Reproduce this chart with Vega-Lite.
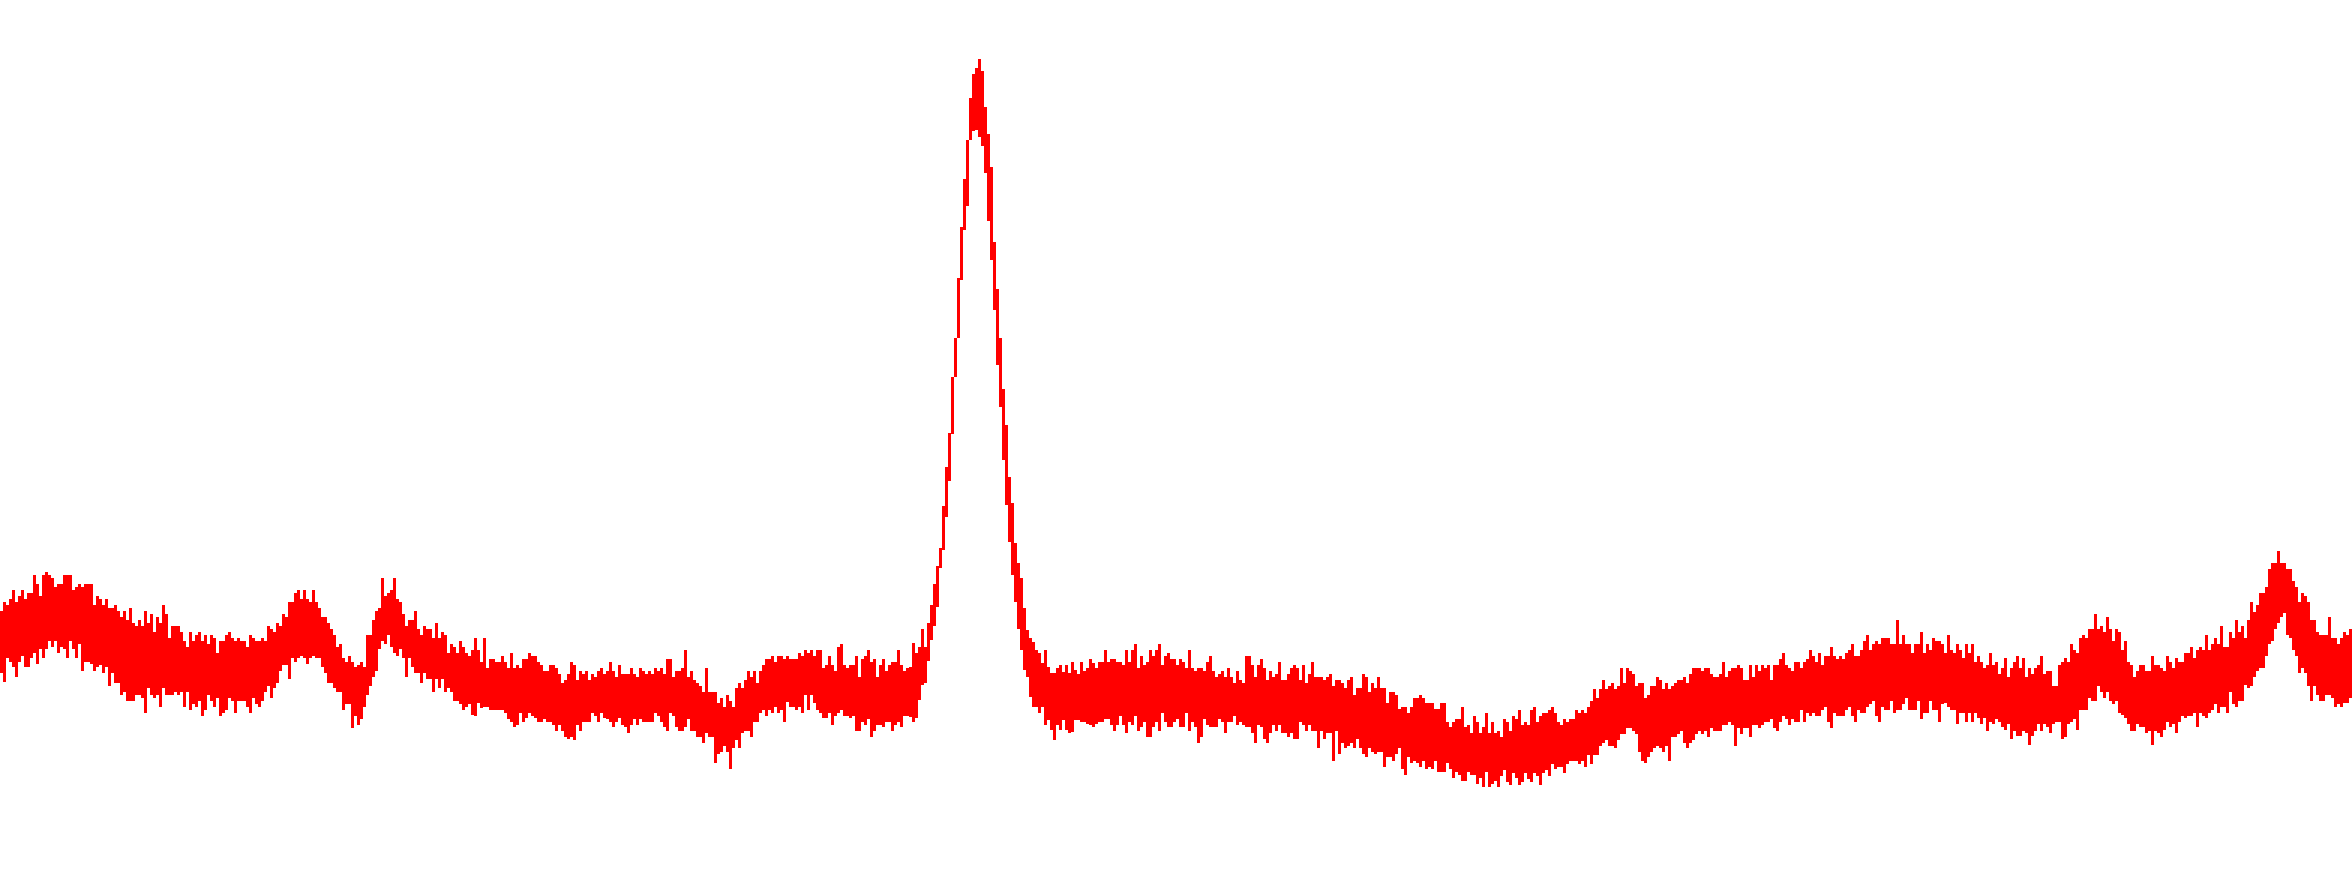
{
  "$schema": "https://vega.github.io/schema/vega-lite/v6.json",
  "autosize": {"type": "fit", "contains": "padding"},
  "padding": 0,
  "width": 2352,
  "height": 876,
  "background": "white",
  "config": {"view": {"stroke": null}},
  "data": {
    "values": [
      {"x":0,"hi":389,"lo":327},{"x":3,"hi":398,"lo":318},{"x":6,"hi":395,"lo":342},{"x":9,"hi":401,"lo":338},{"x":12,"hi":410,"lo":333},{"x":15,"hi":398,"lo":323},{"x":18,"hi":404,"lo":338},{"x":21,"hi":410,"lo":344},{"x":24,"hi":401,"lo":333},{"x":27,"hi":407,"lo":333},
      {"x":30,"hi":407,"lo":342},{"x":33,"hi":425,"lo":347},{"x":36,"hi":416,"lo":336},{"x":39,"hi":404,"lo":351},{"x":42,"hi":425,"lo":342},{"x":45,"hi":428,"lo":351},{"x":48,"hi":425,"lo":359},{"x":51,"hi":422,"lo":353},{"x":54,"hi":413,"lo":359},{"x":57,"hi":416,"lo":347},
      {"x":60,"hi":416,"lo":353},{"x":63,"hi":425,"lo":351},{"x":66,"hi":425,"lo":342},{"x":69,"hi":425,"lo":359},{"x":72,"hi":410,"lo":351},{"x":75,"hi":413,"lo":342},{"x":78,"hi":416,"lo":356},{"x":81,"hi":413,"lo":329},{"x":84,"hi":416,"lo":338},{"x":87,"hi":416,"lo":338},
      {"x":90,"hi":416,"lo":336},{"x":93,"hi":395,"lo":329},{"x":96,"hi":404,"lo":333},{"x":99,"hi":401,"lo":335},{"x":102,"hi":395,"lo":327},{"x":105,"hi":401,"lo":333},{"x":108,"hi":392,"lo":314},{"x":111,"hi":392,"lo":327},{"x":114,"hi":395,"lo":317},{"x":117,"hi":389,"lo":317},
      {"x":120,"hi":383,"lo":305},{"x":123,"hi":389,"lo":308},{"x":126,"hi":380,"lo":299},{"x":129,"hi":392,"lo":299},{"x":132,"hi":377,"lo":299},{"x":135,"hi":374,"lo":305},{"x":138,"hi":380,"lo":305},{"x":141,"hi":374,"lo":302},{"x":144,"hi":389,"lo":287},{"x":147,"hi":377,"lo":312},
      {"x":150,"hi":386,"lo":305},{"x":153,"hi":368,"lo":302},{"x":156,"hi":383,"lo":305},{"x":159,"hi":377,"lo":293},{"x":162,"hi":395,"lo":312},{"x":165,"hi":386,"lo":305},{"x":168,"hi":362,"lo":305},{"x":171,"hi":374,"lo":305},{"x":174,"hi":374,"lo":308},{"x":177,"hi":374,"lo":305},
      {"x":180,"hi":368,"lo":308},{"x":183,"hi":359,"lo":293},{"x":186,"hi":353,"lo":308},{"x":189,"hi":368,"lo":290},{"x":192,"hi":359,"lo":296},{"x":195,"hi":365,"lo":293},{"x":198,"hi":368,"lo":299},{"x":201,"hi":359,"lo":284},{"x":204,"hi":365,"lo":290},{"x":207,"hi":356,"lo":305},
      {"x":210,"hi":365,"lo":299},{"x":213,"hi":362,"lo":293},{"x":216,"hi":347,"lo":302},{"x":219,"hi":359,"lo":284},{"x":222,"hi":359,"lo":287},{"x":225,"hi":365,"lo":290},{"x":228,"hi":368,"lo":302},{"x":231,"hi":362,"lo":299},{"x":234,"hi":359,"lo":287},{"x":237,"hi":362,"lo":299},
      {"x":240,"hi":359,"lo":299},{"x":243,"hi":359,"lo":299},{"x":246,"hi":353,"lo":293},{"x":249,"hi":365,"lo":287},{"x":252,"hi":362,"lo":302},{"x":255,"hi":359,"lo":296},{"x":258,"hi":359,"lo":293},{"x":261,"hi":362,"lo":299},{"x":264,"hi":359,"lo":308},{"x":267,"hi":374,"lo":314},
      {"x":270,"hi":371,"lo":302},{"x":273,"hi":368,"lo":312},{"x":276,"hi":377,"lo":317},{"x":279,"hi":374,"lo":329},{"x":282,"hi":386,"lo":335},{"x":285,"hi":383,"lo":335},{"x":288,"hi":398,"lo":321},{"x":291,"hi":398,"lo":342},{"x":294,"hi":407,"lo":338},{"x":297,"hi":410,"lo":342},
      {"x":300,"hi":401,"lo":344},{"x":303,"hi":410,"lo":342},{"x":306,"hi":401,"lo":336},{"x":309,"hi":398,"lo":342},{"x":312,"hi":410,"lo":344},{"x":315,"hi":398,"lo":342},{"x":318,"hi":392,"lo":342},{"x":321,"hi":383,"lo":333},{"x":324,"hi":383,"lo":327},{"x":327,"hi":377,"lo":317},
      {"x":330,"hi":371,"lo":317},{"x":333,"hi":365,"lo":312},{"x":336,"hi":353,"lo":308},{"x":339,"hi":356,"lo":308},{"x":342,"hi":342,"lo":290},{"x":345,"hi":338,"lo":296},{"x":348,"hi":344,"lo":296},{"x":351,"hi":338,"lo":272},{"x":354,"hi":333,"lo":284},{"x":357,"hi":335,"lo":275},
      {"x":360,"hi":338,"lo":281},{"x":363,"hi":333,"lo":293},{"x":366,"hi":365,"lo":305},{"x":369,"hi":365,"lo":314},{"x":372,"hi":380,"lo":323},{"x":375,"hi":389,"lo":329},{"x":378,"hi":392,"lo":351},{"x":381,"hi":422,"lo":359},{"x":384,"hi":404,"lo":356},{"x":387,"hi":407,"lo":365},
      {"x":390,"hi":410,"lo":353},{"x":393,"hi":422,"lo":347},{"x":396,"hi":401,"lo":344},{"x":399,"hi":398,"lo":351},{"x":402,"hi":386,"lo":342},{"x":405,"hi":374,"lo":323},{"x":408,"hi":380,"lo":342},{"x":411,"hi":380,"lo":333},{"x":414,"hi":389,"lo":327},{"x":417,"hi":371,"lo":327},
      {"x":420,"hi":365,"lo":317},{"x":423,"hi":374,"lo":327},{"x":426,"hi":371,"lo":321},{"x":429,"hi":371,"lo":321},{"x":432,"hi":362,"lo":308},{"x":435,"hi":377,"lo":321},{"x":438,"hi":362,"lo":312},{"x":441,"hi":368,"lo":321},{"x":444,"hi":365,"lo":308},{"x":447,"hi":347,"lo":312},
      {"x":450,"hi":356,"lo":308},{"x":453,"hi":353,"lo":299},{"x":456,"hi":347,"lo":299},{"x":459,"hi":359,"lo":296},{"x":462,"hi":353,"lo":290},{"x":465,"hi":347,"lo":293},{"x":468,"hi":344,"lo":296},
      {"x":471,"hi":350,"lo":285},{"x":474,"hi":362,"lo":284},{"x":477,"hi":350,"lo":297},{"x":480,"hi":338,"lo":292},{"x":483,"hi":362,"lo":293},{"x":486,"hi":332,"lo":293},{"x":489,"hi":341,"lo":290},{"x":492,"hi":341,"lo":290},{"x":495,"hi":338,"lo":290},{"x":498,"hi":338,"lo":290},
      {"x":501,"hi":344,"lo":290},{"x":504,"hi":338,"lo":287},{"x":507,"hi":332,"lo":281},{"x":510,"hi":347,"lo":278},{"x":513,"hi":332,"lo":273},{"x":516,"hi":335,"lo":275},{"x":519,"hi":332,"lo":287},{"x":522,"hi":341,"lo":278},{"x":525,"hi":341,"lo":282},{"x":528,"hi":347,"lo":287},
      {"x":531,"hi":344,"lo":284},{"x":534,"hi":344,"lo":282},{"x":537,"hi":338,"lo":278},{"x":540,"hi":335,"lo":278},{"x":543,"hi":329,"lo":281},{"x":546,"hi":329,"lo":278},{"x":549,"hi":335,"lo":278},{"x":552,"hi":335,"lo":275},{"x":555,"hi":332,"lo":269},{"x":558,"hi":326,"lo":275},
      {"x":561,"hi":317,"lo":269},{"x":564,"hi":320,"lo":263},{"x":567,"hi":326,"lo":261},{"x":570,"hi":338,"lo":263},{"x":573,"hi":335,"lo":260},{"x":576,"hi":320,"lo":275},{"x":579,"hi":329,"lo":269},{"x":582,"hi":326,"lo":278},{"x":585,"hi":329,"lo":278},{"x":588,"hi":320,"lo":278},
      {"x":591,"hi":326,"lo":287},{"x":594,"hi":323,"lo":284},{"x":597,"hi":329,"lo":278},{"x":600,"hi":332,"lo":287},{"x":603,"hi":326,"lo":282},{"x":606,"hi":329,"lo":281},{"x":609,"hi":338,"lo":278},{"x":612,"hi":329,"lo":273},{"x":615,"hi":323,"lo":278},{"x":618,"hi":335,"lo":282},
      {"x":621,"hi":326,"lo":275},{"x":624,"hi":326,"lo":273},{"x":627,"hi":326,"lo":267},{"x":630,"hi":332,"lo":275},{"x":633,"hi":326,"lo":281},{"x":636,"hi":323,"lo":275},{"x":639,"hi":332,"lo":281},{"x":642,"hi":329,"lo":278},{"x":645,"hi":326,"lo":278},{"x":648,"hi":329,"lo":278},
      {"x":651,"hi":326,"lo":278},{"x":654,"hi":332,"lo":287},{"x":657,"hi":329,"lo":284},{"x":660,"hi":332,"lo":278},{"x":663,"hi":326,"lo":273},{"x":666,"hi":341,"lo":269},{"x":669,"hi":341,"lo":287},{"x":672,"hi":323,"lo":284},{"x":675,"hi":329,"lo":273},{"x":678,"hi":329,"lo":269},
      {"x":681,"hi":332,"lo":269},{"x":684,"hi":350,"lo":273},{"x":687,"hi":323,"lo":281},{"x":690,"hi":329,"lo":269},{"x":693,"hi":320,"lo":269},{"x":696,"hi":317,"lo":263},{"x":699,"hi":314,"lo":263},{"x":702,"hi":308,"lo":257},{"x":705,"hi":332,"lo":267},{"x":708,"hi":308,"lo":263},
      {"x":711,"hi":308,"lo":263},{"x":714,"hi":308,"lo":237},{"x":717,"hi":297,"lo":246},{"x":720,"hi":302,"lo":248},{"x":723,"hi":293,"lo":254},{"x":726,"hi":305,"lo":248},{"x":729,"hi":299,"lo":231},{"x":732,"hi":293,"lo":252},{"x":735,"hi":312,"lo":260},{"x":738,"hi":317,"lo":252},
      {"x":741,"hi":312,"lo":267},{"x":744,"hi":320,"lo":269},{"x":747,"hi":329,"lo":269},{"x":750,"hi":323,"lo":263},{"x":753,"hi":329,"lo":278},{"x":756,"hi":317,"lo":278},{"x":759,"hi":329,"lo":287},{"x":762,"hi":335,"lo":290},{"x":765,"hi":341,"lo":284},{"x":768,"hi":341,"lo":290},
      {"x":771,"hi":344,"lo":287},{"x":774,"hi":338,"lo":293},{"x":777,"hi":344,"lo":287},{"x":780,"hi":344,"lo":290},{"x":783,"hi":341,"lo":278},{"x":786,"hi":344,"lo":298},{"x":789,"hi":341,"lo":293},{"x":792,"hi":341,"lo":293},{"x":795,"hi":341,"lo":290},{"x":798,"hi":347,"lo":293},
      {"x":801,"hi":344,"lo":287},{"x":804,"hi":350,"lo":305},{"x":807,"hi":347,"lo":290},{"x":810,"hi":350,"lo":305},{"x":813,"hi":344,"lo":297},{"x":816,"hi":350,"lo":290},{"x":819,"hi":350,"lo":287},{"x":822,"hi":332,"lo":282},{"x":825,"hi":335,"lo":282},{"x":828,"hi":344,"lo":287},
      {"x":831,"hi":335,"lo":275},{"x":834,"hi":329,"lo":284},{"x":837,"hi":353,"lo":287},{"x":840,"hi":356,"lo":290},{"x":843,"hi":335,"lo":284},{"x":846,"hi":332,"lo":284},{"x":849,"hi":335,"lo":282},{"x":852,"hi":335,"lo":284},{"x":855,"hi":344,"lo":269},{"x":858,"hi":323,"lo":269},
      {"x":861,"hi":341,"lo":278},{"x":864,"hi":344,"lo":275},{"x":867,"hi":350,"lo":281},{"x":870,"hi":338,"lo":263},{"x":873,"hi":341,"lo":269},{"x":876,"hi":323,"lo":275},{"x":879,"hi":335,"lo":275},{"x":882,"hi":341,"lo":273},{"x":885,"hi":329,"lo":278},{"x":888,"hi":335,"lo":278},
      {"x":891,"hi":338,"lo":269},{"x":894,"hi":338,"lo":275},{"x":897,"hi":350,"lo":278},{"x":900,"hi":335,"lo":273},{"x":903,"hi":329,"lo":284},{"x":906,"hi":332,"lo":284},
      {"x":909,"hi":333,"lo":283},{"x":912,"hi":357,"lo":278},{"x":915,"hi":347,"lo":282},{"x":918,"hi":353,"lo":300},{"x":921,"hi":371,"lo":315},{"x":924,"hi":353,"lo":317},{"x":927,"hi":377,"lo":339},{"x":930,"hi":395,"lo":360},{"x":933,"hi":416,"lo":374},{"x":936,"hi":434,"lo":393},
      {"x":939,"hi":452,"lo":432},{"x":942,"hi":494,"lo":450},{"x":945,"hi":533,"lo":483},{"x":948,"hi":567,"lo":519},{"x":951,"hi":623,"lo":566},{"x":954,"hi":662,"lo":623},{"x":957,"hi":722,"lo":662},{"x":960,"hi":773,"lo":720},{"x":963,"hi":821,"lo":770},{"x":966,"hi":860,"lo":794},
      {"x":969,"hi":902,"lo":860},{"x":972,"hi":926,"lo":869},{"x":975,"hi":932,"lo":870},{"x":978,"hi":941,"lo":863},{"x":981,"hi":929,"lo":854},{"x":984,"hi":893,"lo":827},{"x":987,"hi":866,"lo":779},{"x":990,"hi":833,"lo":740},{"x":993,"hi":758,"lo":690},{"x":996,"hi":711,"lo":635},
      {"x":999,"hi":662,"lo":593},{"x":1002,"hi":611,"lo":540},{"x":1005,"hi":575,"lo":495},{"x":1008,"hi":523,"lo":458},{"x":1011,"hi":497,"lo":425},{"x":1014,"hi":457,"lo":398},{"x":1017,"hi":437,"lo":371},{"x":1020,"hi":422,"lo":350},{"x":1023,"hi":392,"lo":330},{"x":1026,"hi":370,"lo":323},
      {"x":1029,"hi":362,"lo":303},{"x":1032,"hi":358,"lo":293},{"x":1035,"hi":350,"lo":293},{"x":1038,"hi":347,"lo":287},{"x":1041,"hi":337,"lo":293},{"x":1044,"hi":350,"lo":275},{"x":1047,"hi":333,"lo":280},{"x":1050,"hi":327,"lo":270},{"x":1053,"hi":327,"lo":260},{"x":1056,"hi":332,"lo":275},
      {"x":1059,"hi":335,"lo":270},{"x":1062,"hi":328,"lo":280},{"x":1065,"hi":335,"lo":270},{"x":1068,"hi":327,"lo":267},{"x":1071,"hi":338,"lo":268},{"x":1074,"hi":330,"lo":280},
      {"x":1077,"hi":326,"lo":280},{"x":1080,"hi":338,"lo":278},{"x":1083,"hi":329,"lo":278},{"x":1086,"hi":332,"lo":276},{"x":1089,"hi":341,"lo":275},{"x":1092,"hi":337,"lo":273},{"x":1095,"hi":332,"lo":276},{"x":1098,"hi":338,"lo":278},{"x":1101,"hi":338,"lo":278},{"x":1104,"hi":350,"lo":281},
      {"x":1107,"hi":338,"lo":281},{"x":1110,"hi":341,"lo":275},{"x":1113,"hi":341,"lo":269},{"x":1116,"hi":338,"lo":275},{"x":1119,"hi":338,"lo":284},{"x":1122,"hi":335,"lo":275},{"x":1125,"hi":350,"lo":267},{"x":1128,"hi":338,"lo":278},{"x":1131,"hi":350,"lo":275},{"x":1134,"hi":356,"lo":284},
      {"x":1137,"hi":332,"lo":269},{"x":1140,"hi":344,"lo":273},{"x":1143,"hi":335,"lo":278},{"x":1146,"hi":338,"lo":263},{"x":1149,"hi":350,"lo":263},{"x":1152,"hi":344,"lo":273},{"x":1155,"hi":350,"lo":278},{"x":1158,"hi":356,"lo":269},{"x":1161,"hi":335,"lo":287},{"x":1164,"hi":344,"lo":278},
      {"x":1167,"hi":347,"lo":273},{"x":1170,"hi":341,"lo":273},{"x":1173,"hi":341,"lo":278},{"x":1176,"hi":335,"lo":281},{"x":1179,"hi":341,"lo":273},{"x":1182,"hi":338,"lo":273},{"x":1185,"hi":332,"lo":287},{"x":1188,"hi":350,"lo":269},{"x":1191,"hi":332,"lo":278},{"x":1194,"hi":329,"lo":273},
      {"x":1197,"hi":332,"lo":257},{"x":1200,"hi":332,"lo":263},{"x":1203,"hi":329,"lo":281},{"x":1206,"hi":338,"lo":275},{"x":1209,"hi":344,"lo":273},{"x":1212,"hi":329,"lo":273},{"x":1215,"hi":323,"lo":273},{"x":1218,"hi":326,"lo":281},{"x":1221,"hi":329,"lo":278},{"x":1224,"hi":323,"lo":267},
      {"x":1227,"hi":332,"lo":278},{"x":1230,"hi":323,"lo":278},{"x":1233,"hi":317,"lo":284},{"x":1236,"hi":329,"lo":275},{"x":1239,"hi":320,"lo":278},{"x":1242,"hi":317,"lo":275},{"x":1245,"hi":344,"lo":273},{"x":1248,"hi":344,"lo":273},{"x":1251,"hi":335,"lo":267},{"x":1254,"hi":323,"lo":257},
      {"x":1257,"hi":335,"lo":275},{"x":1260,"hi":341,"lo":273},{"x":1263,"hi":332,"lo":261},{"x":1266,"hi":320,"lo":257},{"x":1269,"hi":329,"lo":267},{"x":1272,"hi":323,"lo":275},{"x":1275,"hi":326,"lo":269},{"x":1278,"hi":338,"lo":275},{"x":1281,"hi":320,"lo":267},{"x":1284,"hi":320,"lo":267},
      {"x":1287,"hi":326,"lo":263},{"x":1290,"hi":332,"lo":267},{"x":1293,"hi":335,"lo":261},{"x":1296,"hi":332,"lo":261},{"x":1299,"hi":320,"lo":278},{"x":1302,"hi":335,"lo":275},{"x":1305,"hi":317,"lo":269},{"x":1308,"hi":326,"lo":275},{"x":1311,"hi":338,"lo":269},{"x":1314,"hi":323,"lo":269},
      {"x":1317,"hi":323,"lo":252},{"x":1320,"hi":323,"lo":269},{"x":1323,"hi":320,"lo":261},{"x":1326,"hi":323,"lo":267},{"x":1329,"hi":326,"lo":267},{"x":1332,"hi":314,"lo":239},{"x":1335,"hi":320,"lo":269},{"x":1338,"hi":320,"lo":246},{"x":1341,"hi":317,"lo":257},{"x":1344,"hi":312,"lo":252},
      {"x":1347,"hi":320,"lo":254},{"x":1350,"hi":323,"lo":257},{"x":1353,"hi":305,"lo":252},{"x":1356,"hi":312,"lo":261},{"x":1359,"hi":312,"lo":252},{"x":1362,"hi":326,"lo":246},{"x":1365,"hi":323,"lo":243},{"x":1368,"hi":308,"lo":252},{"x":1371,"hi":317,"lo":248},{"x":1374,"hi":312,"lo":246},
      {"x":1377,"hi":323,"lo":248},{"x":1380,"hi":312,"lo":248},{"x":1383,"hi":312,"lo":233},{"x":1386,"hi":297,"lo":243},{"x":1389,"hi":308,"lo":243},{"x":1392,"hi":308,"lo":239},{"x":1395,"hi":305,"lo":246},{"x":1398,"hi":291,"lo":252},{"x":1401,"hi":293,"lo":231},{"x":1404,"hi":293,"lo":225},
      {"x":1407,"hi":287,"lo":243},{"x":1410,"hi":293,"lo":237},{"x":1413,"hi":302,"lo":239},{"x":1416,"hi":302,"lo":237},{"x":1419,"hi":305,"lo":233},{"x":1422,"hi":302,"lo":239},{"x":1425,"hi":297,"lo":231},{"x":1428,"hi":297,"lo":233},{"x":1431,"hi":297,"lo":231},{"x":1434,"hi":291,"lo":239},
      {"x":1437,"hi":291,"lo":228},{"x":1440,"hi":297,"lo":228},{"x":1443,"hi":297,"lo":228},{"x":1446,"hi":278,"lo":237},{"x":1449,"hi":273,"lo":231},{"x":1452,"hi":278,"lo":222},{"x":1455,"hi":281,"lo":228},{"x":1458,"hi":281,"lo":225},{"x":1461,"hi":293,"lo":219},{"x":1464,"hi":273,"lo":219},
      {"x":1467,"hi":275,"lo":228},{"x":1470,"hi":267,"lo":225},{"x":1473,"hi":284,"lo":225},{"x":1476,"hi":278,"lo":216},{"x":1479,"hi":267,"lo":222},{"x":1482,"hi":273,"lo":213},{"x":1485,"hi":287,"lo":228},{"x":1488,"hi":267,"lo":213},{"x":1491,"hi":278,"lo":216},{"x":1494,"hi":267,"lo":219},
      {"x":1497,"hi":269,"lo":213},
      {"x":1500,"hi":263,"lo":224},{"x":1503,"hi":281,"lo":230},{"x":1506,"hi":278,"lo":218},{"x":1509,"hi":269,"lo":215},{"x":1512,"hi":284,"lo":227},{"x":1515,"hi":281,"lo":222},{"x":1518,"hi":290,"lo":215},{"x":1521,"hi":275,"lo":218},{"x":1524,"hi":278,"lo":227},{"x":1527,"hi":275,"lo":221},
      {"x":1530,"hi":290,"lo":218},{"x":1533,"hi":293,"lo":227},{"x":1536,"hi":278,"lo":224},{"x":1539,"hi":284,"lo":215},{"x":1542,"hi":287,"lo":227},{"x":1545,"hi":287,"lo":230},{"x":1548,"hi":290,"lo":224},{"x":1551,"hi":293,"lo":236},{"x":1554,"hi":287,"lo":231},{"x":1557,"hi":278,"lo":233},
      {"x":1560,"hi":275,"lo":233},{"x":1563,"hi":281,"lo":227},{"x":1566,"hi":278,"lo":236},{"x":1569,"hi":281,"lo":239},{"x":1572,"hi":281,"lo":239},{"x":1575,"hi":290,"lo":239},{"x":1578,"hi":287,"lo":236},{"x":1581,"hi":290,"lo":239},{"x":1584,"hi":287,"lo":233},{"x":1587,"hi":293,"lo":245},
      {"x":1590,"hi":299,"lo":236},{"x":1593,"hi":311,"lo":245},{"x":1596,"hi":302,"lo":245},{"x":1599,"hi":311,"lo":254},{"x":1602,"hi":320,"lo":257},{"x":1605,"hi":311,"lo":260},{"x":1608,"hi":314,"lo":254},{"x":1611,"hi":317,"lo":254},{"x":1614,"hi":311,"lo":252},{"x":1617,"hi":314,"lo":260},
      {"x":1620,"hi":332,"lo":266},{"x":1623,"hi":317,"lo":266},{"x":1626,"hi":332,"lo":272},{"x":1629,"hi":329,"lo":272},{"x":1632,"hi":326,"lo":269},{"x":1635,"hi":314,"lo":266},{"x":1638,"hi":317,"lo":248},{"x":1641,"hi":317,"lo":239},{"x":1644,"hi":302,"lo":237},{"x":1647,"hi":305,"lo":243},
      {"x":1650,"hi":314,"lo":248},{"x":1653,"hi":314,"lo":252},{"x":1656,"hi":323,"lo":254},{"x":1659,"hi":320,"lo":252},{"x":1662,"hi":311,"lo":248},{"x":1665,"hi":317,"lo":254},{"x":1668,"hi":311,"lo":239},{"x":1671,"hi":314,"lo":263},{"x":1674,"hi":317,"lo":263},{"x":1677,"hi":320,"lo":266},
      {"x":1680,"hi":320,"lo":269},{"x":1683,"hi":323,"lo":257},{"x":1686,"hi":317,"lo":252},{"x":1689,"hi":326,"lo":257},{"x":1692,"hi":332,"lo":260},{"x":1695,"hi":332,"lo":266},{"x":1698,"hi":332,"lo":269},{"x":1701,"hi":329,"lo":266},{"x":1704,"hi":332,"lo":269},{"x":1707,"hi":332,"lo":263},
      {"x":1710,"hi":326,"lo":272},{"x":1713,"hi":323,"lo":269},{"x":1716,"hi":323,"lo":269},{"x":1719,"hi":326,"lo":269},{"x":1722,"hi":338,"lo":275},{"x":1725,"hi":323,"lo":275},{"x":1728,"hi":329,"lo":278},{"x":1731,"hi":332,"lo":275},{"x":1734,"hi":332,"lo":254},{"x":1737,"hi":335,"lo":272},
      {"x":1740,"hi":332,"lo":266},{"x":1743,"hi":320,"lo":272},{"x":1746,"hi":320,"lo":272},{"x":1749,"hi":335,"lo":263},{"x":1752,"hi":323,"lo":275},{"x":1755,"hi":335,"lo":275},{"x":1758,"hi":329,"lo":272},{"x":1761,"hi":335,"lo":275},{"x":1764,"hi":332,"lo":278},{"x":1767,"hi":335,"lo":278},
      {"x":1770,"hi":320,"lo":281},{"x":1773,"hi":335,"lo":272},{"x":1776,"hi":335,"lo":269},{"x":1779,"hi":341,"lo":278},{"x":1782,"hi":347,"lo":284},{"x":1785,"hi":335,"lo":281},{"x":1788,"hi":332,"lo":275},{"x":1791,"hi":329,"lo":281},{"x":1794,"hi":338,"lo":278},{"x":1797,"hi":338,"lo":278},
      {"x":1800,"hi":332,"lo":290},{"x":1803,"hi":338,"lo":278},{"x":1806,"hi":341,"lo":287},{"x":1809,"hi":350,"lo":284},{"x":1812,"hi":344,"lo":287},{"x":1815,"hi":338,"lo":284},{"x":1818,"hi":347,"lo":284},{"x":1821,"hi":335,"lo":290},{"x":1824,"hi":344,"lo":293},{"x":1827,"hi":344,"lo":278},
      {"x":1830,"hi":353,"lo":272},{"x":1833,"hi":344,"lo":287},{"x":1836,"hi":341,"lo":284},{"x":1839,"hi":344,"lo":284},{"x":1842,"hi":341,"lo":284},{"x":1845,"hi":347,"lo":290},{"x":1848,"hi":350,"lo":293},{"x":1851,"hi":356,"lo":284},{"x":1854,"hi":344,"lo":278},{"x":1857,"hi":344,"lo":290},
      {"x":1860,"hi":350,"lo":287},{"x":1863,"hi":359,"lo":287},{"x":1866,"hi":365,"lo":293},{"x":1869,"hi":350,"lo":296},{"x":1872,"hi":356,"lo":299},{"x":1875,"hi":359,"lo":284},{"x":1878,"hi":356,"lo":278},{"x":1881,"hi":362,"lo":293},{"x":1884,"hi":362,"lo":290},{"x":1887,"hi":362,"lo":290},
      {"x":1890,"hi":356,"lo":299},{"x":1893,"hi":356,"lo":287},{"x":1896,"hi":380,"lo":290},{"x":1899,"hi":356,"lo":290},{"x":1902,"hi":365,"lo":296},{"x":1905,"hi":356,"lo":302},{"x":1908,"hi":356,"lo":290},{"x":1911,"hi":347,"lo":290},{"x":1914,"hi":356,"lo":290},{"x":1917,"hi":356,"lo":299},
      {"x":1920,"hi":368,"lo":281},{"x":1923,"hi":347,"lo":287},{"x":1926,"hi":356,"lo":287},{"x":1929,"hi":350,"lo":299},
      {"x":1932,"hi":362,"lo":290},{"x":1935,"hi":359,"lo":290},{"x":1938,"hi":359,"lo":278},{"x":1941,"hi":356,"lo":296},{"x":1944,"hi":347,"lo":297},{"x":1947,"hi":365,"lo":293},{"x":1950,"hi":350,"lo":290},{"x":1953,"hi":347,"lo":290},{"x":1956,"hi":356,"lo":276},{"x":1959,"hi":350,"lo":287},
      {"x":1962,"hi":342,"lo":287},{"x":1965,"hi":356,"lo":278},{"x":1968,"hi":347,"lo":287},{"x":1971,"hi":356,"lo":278},{"x":1974,"hi":338,"lo":287},{"x":1977,"hi":344,"lo":282},{"x":1980,"hi":338,"lo":276},{"x":1983,"hi":332,"lo":282},{"x":1986,"hi":335,"lo":269},{"x":1989,"hi":347,"lo":278},
      {"x":1992,"hi":335,"lo":276},{"x":1995,"hi":338,"lo":281},{"x":1998,"hi":326,"lo":278},{"x":2001,"hi":332,"lo":273},{"x":2004,"hi":342,"lo":270},{"x":2007,"hi":323,"lo":276},{"x":2010,"hi":332,"lo":261},{"x":2013,"hi":338,"lo":269},{"x":2016,"hi":344,"lo":264},{"x":2019,"hi":332,"lo":264},
      {"x":2022,"hi":342,"lo":269},{"x":2025,"hi":323,"lo":267},{"x":2028,"hi":332,"lo":255},{"x":2031,"hi":326,"lo":264},{"x":2034,"hi":332,"lo":269},{"x":2037,"hi":335,"lo":276},{"x":2040,"hi":344,"lo":269},{"x":2043,"hi":326,"lo":276},{"x":2046,"hi":329,"lo":273},{"x":2049,"hi":329,"lo":267},
      {"x":2052,"hi":314,"lo":276},{"x":2055,"hi":314,"lo":278},{"x":2058,"hi":335,"lo":278},{"x":2061,"hi":338,"lo":261},{"x":2064,"hi":342,"lo":263},{"x":2067,"hi":338,"lo":276},{"x":2070,"hi":356,"lo":278},{"x":2073,"hi":350,"lo":281},{"x":2076,"hi":347,"lo":270},{"x":2079,"hi":362,"lo":290},
      {"x":2082,"hi":365,"lo":290},{"x":2085,"hi":362,"lo":290},{"x":2088,"hi":371,"lo":302},{"x":2091,"hi":371,"lo":299},{"x":2094,"hi":386,"lo":299},{"x":2097,"hi":371,"lo":314},{"x":2100,"hi":374,"lo":308},{"x":2103,"hi":368,"lo":302},{"x":2106,"hi":383,"lo":308},{"x":2109,"hi":371,"lo":299},
      {"x":2112,"hi":359,"lo":296},{"x":2115,"hi":371,"lo":299},{"x":2118,"hi":368,"lo":287},{"x":2121,"hi":350,"lo":285},{"x":2124,"hi":359,"lo":282},{"x":2127,"hi":338,"lo":276},{"x":2130,"hi":335,"lo":269},{"x":2133,"hi":323,"lo":269},{"x":2136,"hi":329,"lo":276},{"x":2139,"hi":335,"lo":273},
      {"x":2142,"hi":335,"lo":273},{"x":2145,"hi":329,"lo":267},{"x":2148,"hi":329,"lo":269},{"x":2151,"hi":344,"lo":255},{"x":2154,"hi":335,"lo":269},{"x":2157,"hi":335,"lo":267},{"x":2160,"hi":332,"lo":263},{"x":2163,"hi":329,"lo":270},{"x":2166,"hi":344,"lo":278},{"x":2169,"hi":338,"lo":273},
      {"x":2172,"hi":332,"lo":276},{"x":2175,"hi":342,"lo":267},{"x":2178,"hi":338,"lo":278},{"x":2181,"hi":338,"lo":284},{"x":2184,"hi":347,"lo":282},{"x":2187,"hi":347,"lo":284},{"x":2190,"hi":353,"lo":284},{"x":2193,"hi":342,"lo":287},{"x":2196,"hi":350,"lo":273},{"x":2199,"hi":353,"lo":287},
      {"x":2202,"hi":350,"lo":284},{"x":2205,"hi":365,"lo":282},{"x":2208,"hi":350,"lo":287},{"x":2211,"hi":356,"lo":290},{"x":2214,"hi":362,"lo":296},{"x":2217,"hi":356,"lo":287},{"x":2220,"hi":374,"lo":293},{"x":2223,"hi":353,"lo":293},{"x":2226,"hi":353,"lo":287},{"x":2229,"hi":368,"lo":308},
      {"x":2232,"hi":362,"lo":296},{"x":2235,"hi":380,"lo":293},{"x":2238,"hi":368,"lo":299},{"x":2241,"hi":374,"lo":299},{"x":2244,"hi":362,"lo":315},{"x":2247,"hi":380,"lo":312},{"x":2250,"hi":398,"lo":314},{"x":2253,"hi":388,"lo":323},{"x":2256,"hi":395,"lo":329},{"x":2259,"hi":407,"lo":332},
      {"x":2262,"hi":407,"lo":332},{"x":2265,"hi":413,"lo":344},{"x":2268,"hi":431,"lo":356},{"x":2271,"hi":437,"lo":359},{"x":2274,"hi":437,"lo":371},{"x":2277,"hi":449,"lo":377},{"x":2280,"hi":437,"lo":383},{"x":2283,"hi":437,"lo":387},{"x":2286,"hi":431,"lo":365},{"x":2289,"hi":431,"lo":362},
      {"x":2292,"hi":419,"lo":350},{"x":2295,"hi":413,"lo":344},{"x":2298,"hi":398,"lo":327},{"x":2301,"hi":407,"lo":332},{"x":2304,"hi":404,"lo":327},{"x":2307,"hi":398,"lo":314},{"x":2310,"hi":380,"lo":299},{"x":2313,"hi":380,"lo":314},{"x":2316,"hi":368,"lo":305},{"x":2319,"hi":365,"lo":299},
      {"x":2322,"hi":365,"lo":299},{"x":2325,"hi":365,"lo":305},{"x":2328,"hi":383,"lo":305},{"x":2331,"hi":362,"lo":302},{"x":2334,"hi":362,"lo":293},{"x":2337,"hi":356,"lo":296},{"x":2340,"hi":362,"lo":293},{"x":2343,"hi":368,"lo":297},{"x":2346,"hi":365,"lo":297},{"x":2349,"hi":371,"lo":302},
      {"x":2352,"hi":371,"lo":302}
    ]
  },
  "mark": {"type": "area", "interpolate": "step-after", "color": "#ff0000"},
  "encoding": {
    "x": {"field": "x", "type": "quantitative", "scale": {"domain": [0, 2352], "nice": false, "zero": false}, "axis": null},
    "y": {"field": "hi", "type": "quantitative", "scale": {"domain": [124, 1000], "nice": false, "zero": false}, "axis": null},
    "y2": {"field": "lo"}
  }
}
